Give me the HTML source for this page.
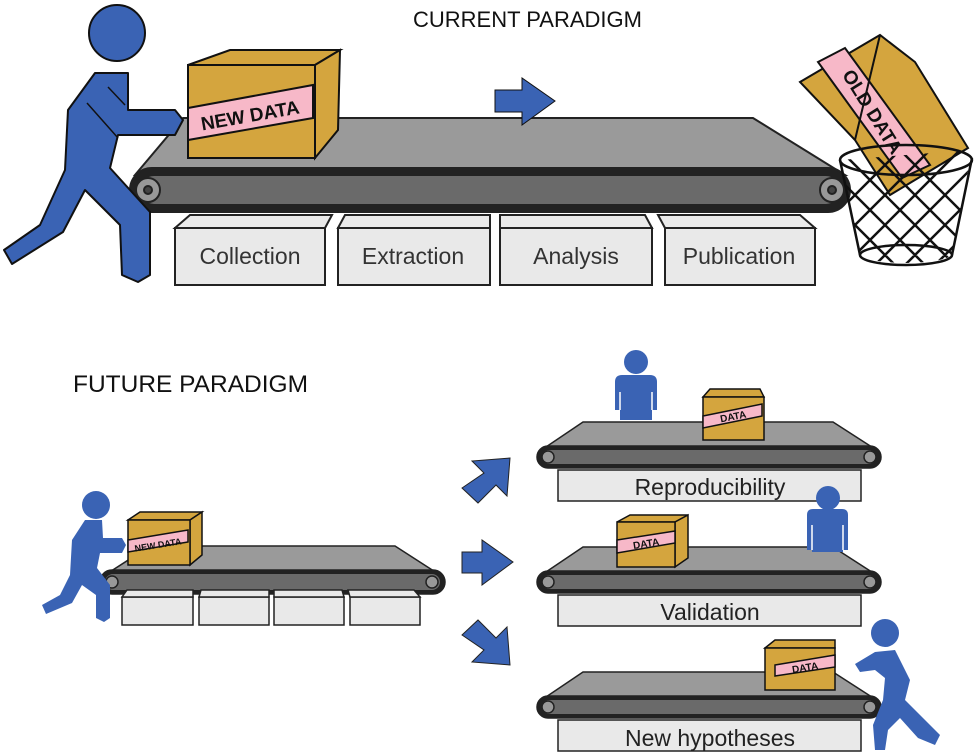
<!DOCTYPE html>
<html><head><meta charset="utf-8"><style>
html,body{margin:0;padding:0;background:#fff}
svg{display:block}
text{font-family:"Liberation Sans",sans-serif}
</style></head><body>
<svg width="974" height="754" viewBox="0 0 974 754" xmlns="http://www.w3.org/2000/svg">
<defs>
<clipPath id="bk"><path d="M840,160 L860,255 A47,10 0 0 0 952,255 L972,150 Z"/></clipPath>
</defs>

<text x="413" y="27" font-size="22" fill="#111">CURRENT PARADIGM</text>
<text x="73" y="392" font-size="24.5" fill="#111">FUTURE PARADIGM</text>

<!-- TOP CONVEYOR -->
<g stroke="#222" stroke-width="2">
<polygon points="183,118 753,118 845,175 135,175" fill="#9a9a9a"/>
<rect x="130" y="168" width="720" height="44" rx="22" fill="#222"/>
<rect x="140" y="176" width="700" height="28" rx="14" fill="#6a6a6a" stroke="none"/>
<circle cx="148" cy="190" r="12" fill="#999"/><circle cx="148" cy="190" r="4" fill="#444"/>
<circle cx="832" cy="190" r="12" fill="#999"/><circle cx="832" cy="190" r="4" fill="#444"/>
<g fill="#e9e9e9">
<polygon points="175,228 190,215 332,215 325,228"/><rect x="175" y="228" width="150" height="57"/>
<polygon points="338,228 345,215 490,215 490,228"/><rect x="338" y="228" width="152" height="57"/>
<polygon points="500,228 500,215 645,215 652,228"/><rect x="500" y="228" width="152" height="57"/>
<polygon points="665,228 658,215 800,215 815,228"/><rect x="665" y="228" width="150" height="57"/>
</g>
</g>
<g font-size="23" fill="#333" text-anchor="middle">
<text x="250" y="264">Collection</text><text x="413" y="264">Extraction</text>
<text x="576" y="264">Analysis</text><text x="739" y="264">Publication</text>
</g>

<!-- top runner -->
<polygon points="68,110 95,73 128,73 128,110 175,110 183,120 175,135 118,135 110,168 150,212 150,275 138,282 122,275 120,225 85,190 63,232 12,264 4,250 40,225 65,170" fill="#3a63b4" stroke="#111" stroke-width="2" stroke-linejoin="round"/>
<g stroke="#111" stroke-width="1.5"><line x1="87" y1="103" x2="118" y2="138"/><line x1="108" y1="87" x2="125" y2="105"/></g>
<circle cx="117" cy="33" r="28" fill="#3a63b4" stroke="#111" stroke-width="2"/>

<!-- NEW DATA box -->
<g stroke="#111" stroke-width="2" fill="#d4a53e">
<polygon points="188,65 230,50 340,50 315,65"/>
<polygon points="315,65 340,50 338,130 315,158"/>
<rect x="188" y="65" width="127" height="93"/>
<polygon points="188,108 313,85 313,118 188,140" fill="#f7b8c8"/>
</g>
<text x="250" y="122" font-size="19" font-weight="bold" text-anchor="middle" transform="rotate(-10 250 115)" fill="#111">NEW DATA</text>

<!-- top arrow -->
<polygon points="495,90 522,90 522,78 555,101 522,125 522,112 495,112" fill="#3a63b4" stroke="#111" stroke-width="1"/>

<!-- basket & old data -->
<g stroke="#111" stroke-width="2">
<polygon points="800,82 880,35 915,62 968,148 890,195 855,140" fill="#d4a53e"/>
<polygon points="818,62 845,48 930,165 902,178" fill="#f7b8c8"/>
<line x1="880" y1="35" x2="855" y2="140"/>
</g>
<text x="872" y="118" font-size="19" font-weight="bold" text-anchor="middle" transform="rotate(58 872 112)" fill="#111">OLD DATA</text>
<g clip-path="url(#bk)" stroke="#111" stroke-width="2.5">
<path d="M780,150 L900,270 M810,150 L930,270 M840,150 L960,270 M870,150 L990,270 M900,150 L1020,270 M750,150 L870,270
M990,150 L870,270 M960,150 L840,270 M930,150 L810,270 M900,150 L780,270 M1020,150 L900,270 M1050,150 L930,270"/>
</g>
<g stroke="#111" stroke-width="2.5" fill="none">
<ellipse cx="906" cy="160" rx="66" ry="15"/>
<ellipse cx="906" cy="255" rx="46" ry="10"/>
<line x1="840" y1="160" x2="860" y2="255"/><line x1="972" y1="158" x2="952" y2="255"/>
</g>

<!-- FUTURE conveyor -->
<g stroke="#222" stroke-width="1.5">
<polygon points="150,546 395,546 440,575 105,575" fill="#9a9a9a"/>
<rect x="100" y="570" width="345" height="24" rx="12" fill="#222"/>
<rect x="105" y="574" width="335" height="16" rx="8" fill="#6a6a6a" stroke="none"/>
<circle cx="112" cy="582" r="6" fill="#999"/><circle cx="432" cy="582" r="6" fill="#999"/>
<g fill="#e9e9e9">
<rect x="122" y="597" width="71" height="28"/><polygon points="122,597 127,590 193,590 193,597"/>
<rect x="199" y="597" width="70" height="28"/><polygon points="199,597 201,590 269,590 269,597"/>
<rect x="274" y="597" width="70" height="28"/><polygon points="274,597 274,590 342,590 344,597"/>
<rect x="350" y="597" width="70" height="28"/><polygon points="350,597 348,590 414,590 420,597"/>
</g>
</g>
<!-- small runner -->
<polygon points="72,540 85,520 102,520 103,538 122,538 126,545 122,553 100,553 97,568 110,585 110,618 104,622 96,618 96,595 82,585 72,603 46,614 42,605 60,595 70,575" fill="#3a63b4"/>
<circle cx="96" cy="505" r="14" fill="#3a63b4"/>
<g stroke="#111" stroke-width="1.5" fill="#d4a53e">
<polygon points="128,520 140,512 202,512 190,520"/>
<polygon points="190,520 202,512 202,555 190,565"/>
<rect x="128" y="520" width="62" height="45"/>
<polygon points="128,540 188,530 188,542 128,552" fill="#f7b8c8"/>
</g>
<text x="158" y="548" font-size="9" font-weight="bold" text-anchor="middle" transform="rotate(-9 158 545)" fill="#111">NEW DATA</text>

<!-- arrows -->
<g fill="#3a63b4" stroke="#222" stroke-width="1">
<polygon points="462,488 478,503 496,485 507,496 510,458 472,461 484,473"/>
<polygon points="462,552 482,552 482,540 513,562 482,585 482,573 462,573"/>
<polygon points="462,635 478,620 496,638 507,627 510,665 472,662 484,650"/>
</g>

<!-- RIGHT conveyors -->
<g>
<g stroke="#222" stroke-width="1.5">
<polygon points="583,422 833,422 878,451 540,451" fill="#9a9a9a"/>
<rect x="537" y="446" width="344" height="22" rx="11" fill="#222"/>
<rect x="542" y="450" width="334" height="14" rx="7" fill="#6a6a6a" stroke="none"/>
<circle cx="548" cy="457" r="6" fill="#999"/><circle cx="870" cy="457" r="6" fill="#999"/>
<rect x="558" y="470" width="303" height="31" fill="#e9e9e9"/>
</g>
</g>
<g transform="translate(0,125)">
<g stroke="#222" stroke-width="1.5">
<polygon points="583,422 833,422 878,451 540,451" fill="#9a9a9a"/>
<rect x="537" y="446" width="344" height="22" rx="11" fill="#222"/>
<rect x="542" y="450" width="334" height="14" rx="7" fill="#6a6a6a" stroke="none"/>
<circle cx="548" cy="457" r="6" fill="#999"/><circle cx="870" cy="457" r="6" fill="#999"/>
<rect x="558" y="470" width="303" height="31" fill="#e9e9e9"/>
</g></g>
<g transform="translate(0,250)">
<g stroke="#222" stroke-width="1.5">
<polygon points="583,422 833,422 878,451 540,451" fill="#9a9a9a"/>
<rect x="537" y="446" width="344" height="22" rx="11" fill="#222"/>
<rect x="542" y="450" width="334" height="14" rx="7" fill="#6a6a6a" stroke="none"/>
<circle cx="548" cy="457" r="6" fill="#999"/><circle cx="870" cy="457" r="6" fill="#999"/>
<rect x="558" y="470" width="303" height="31" fill="#e9e9e9"/>
</g></g>
<g font-size="23" fill="#222" text-anchor="middle">
<text x="710" y="495">Reproducibility</text>
<text x="710" y="620">Validation</text>
<text x="710" y="746">New hypotheses</text>
</g>

<!-- standing people -->
<g fill="#3a63b4">
<circle cx="636" cy="362" r="12"/>
<path d="M615,382 Q615,375 622,375 L650,375 Q657,375 657,382 L657,410 L652,410 L652,420 L620,420 L620,410 L615,410 Z"/>
<circle cx="828" cy="498" r="12"/>
<path d="M807,515 Q807,509 813,509 L842,509 Q848,509 848,515 L848,550 L843,550 L843,552 L812,552 L812,550 L807,550 Z"/>
</g>
<g stroke="#fff" stroke-width="1.5"><line x1="620" y1="392" x2="620" y2="410"/><line x1="652" y1="392" x2="652" y2="410"/><line x1="812" y1="525" x2="812" y2="550"/><line x1="843" y1="525" x2="843" y2="550"/></g>

<!-- DATA boxes -->
<g stroke="#111" stroke-width="1.5" fill="#d4a53e">
<polygon points="703,397 710,389 760,389 764,397"/><rect x="703" y="397" width="61" height="43"/>
<polygon points="703,416 762,404 762,416 703,428" fill="#f7b8c8"/>
<polygon points="617,522 630,515 688,515 675,522"/><polygon points="675,522 688,515 688,558 675,567"/><rect x="617" y="522" width="58" height="45"/>
<polygon points="617,540 675,531 675,543 617,553" fill="#f7b8c8"/>
<polygon points="765,648 775,640 835,640 835,648"/><rect x="765" y="648" width="70" height="42"/>
<polygon points="775,665 835,655 835,667 775,676" fill="#f7b8c8"/>
</g>
<g font-size="10" font-weight="bold" fill="#111" text-anchor="middle">
<text x="733" y="420" transform="rotate(-11 733 416)">DATA</text>
<text x="646" y="547" transform="rotate(-9 646 543)">DATA</text>
<text x="805" y="671" transform="rotate(-9 805 667)">DATA</text>
</g>

<!-- bottom-right runner -->
<polygon points="875,652 895,650 910,680 905,700 925,720 940,735 935,745 918,738 900,718 888,730 885,750 875,750 873,725 883,700 885,678 875,670 860,672 855,664" fill="#3a63b4"/>
<circle cx="885" cy="633" r="14" fill="#3a63b4"/>
</svg>
</body></html>
